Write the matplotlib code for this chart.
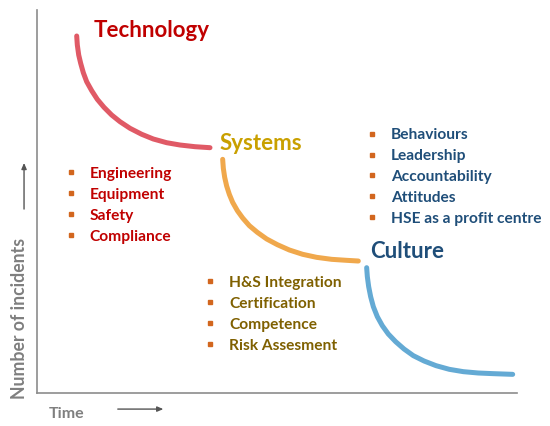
import matplotlib
matplotlib.use("Agg")
import matplotlib.pyplot as plt

# curve points (time 0-100, incidents 0-100)
tech_t = [8.27, 8.40, 8.69, 9.10, 9.65, 10.35, 11.40, 12.56, 13.96, 15.56,
          17.29, 19.38, 21.81, 24.23, 27.02, 29.79, 32.92, 36.04]
tech_n = [93.21, 90.86, 88.25, 86.08, 83.63, 81.28, 78.93, 76.68, 74.59,
          72.58, 70.84, 69.11, 67.55, 66.32, 65.35, 64.75, 64.31, 64.05]
sys_t = [38.68, 38.82, 39.10, 39.51, 40.07, 40.76, 41.74, 42.85, 44.24,
         45.90, 47.85, 50.07, 52.57, 55.35, 58.26, 61.39, 64.51, 66.94]
sys_n = [61.01, 58.66, 56.31, 54.05, 51.87, 49.78, 47.61, 45.69, 43.69,
         41.95, 40.21, 38.73, 37.34, 36.21, 35.42, 34.90, 34.64, 34.46]
cul_t = [68.68, 68.82, 69.10, 69.51, 70.07, 70.90, 71.94, 73.19, 74.72,
         76.46, 78.40, 80.63, 83.13, 85.90, 88.82, 91.94, 95.07, 99.10]
cul_n = [32.72, 30.37, 27.76, 25.15, 22.54, 19.93, 17.58, 15.40, 13.40,
         11.49, 9.75, 8.36, 7.14, 6.18, 5.57, 5.22, 5.05, 4.87]

tech_items = ["Engineering", "Equipment", "Safety", "Compliance"]
sys_items = ["H&S Integration", "Certification", "Competence", "Risk Assesment"]
cul_items = ["Behaviours", "Leadership", "Accountability", "Attitudes",
             "HSE as a profit centre"]

FONT = "Lato"
RED = "#c00000"
GOLD = "#c9a000"
OLIVE = "#7f6000"
NAVY = "#1f4e79"
BULLET = "#d2661e"
GREY = "#7f7f7f"

fig = plt.figure(figsize=(5.5, 4.26), dpi=100)
ax = fig.add_axes([37 / 550, 33 / 426, 480 / 550, 383 / 426])
ax.set_xlim(0, 100)
ax.set_ylim(0, 100)
ax.set_xticks([])
ax.set_yticks([])
for s in ["top", "right"]:
    ax.spines[s].set_visible(False)
for s in ["left", "bottom"]:
    ax.spines[s].set_color("#8c8c8c")
    ax.spines[s].set_linewidth(1.2)

style = dict(lw=3.6, solid_capstyle="round", solid_joinstyle="round")
ax.plot(tech_t, tech_n, color="#e05a66", **style)
ax.plot(sys_t, sys_n, color="#f0a84c", **style)
ax.plot(cul_t, cul_n, color="#64aad4", **style)

ax.text(11.7, 92.9, "Technology", color=RED, fontsize=16,
        fontweight="bold", family=FONT, va="baseline")
ax.text(38.1, 63.4, "Systems", color=GOLD, fontsize=16,
        fontweight="bold", family=FONT, va="baseline")
ax.text(69.4, 35.2, "Culture", color=NAVY, fontsize=16,
        fontweight="bold", family=FONT, va="baseline")


def bullet_list(items, x, y0, color):
    step = 5.45
    for i, item in enumerate(items):
        y = y0 - i * step
        ax.text(x, y, item, color=color, fontsize=11.2, fontweight="bold",
                family=FONT, va="baseline")
        ax.plot([x - 4.0], [y + 1.5], marker="s", ms=3.4, color=BULLET,
                clip_on=False)


bullet_list(tech_items, 11.0, 56.1, RED)
bullet_list(sys_items, 40.1, 27.7, OLIVE)
bullet_list(cul_items, 73.75, 66.2, NAVY)

ax.text(2.5, -6.5, "Time", color=GREY, fontsize=11.5, fontweight="bold",
        family=FONT, va="baseline")
ax.text(-1.9, 19.4, "Number of incidents", color=GREY, fontsize=12.7,
        fontweight="bold", family=FONT, rotation=90, ha="right", va="center")

arrow = dict(arrowstyle="-|>,head_length=0.35,head_width=0.15",
             color="#555555", lw=1.0)
ax.annotate("", xy=(26.9, -4.2), xytext=(16.25, -4.2), arrowprops=arrow,
            annotation_clip=False)
ax.annotate("", xy=(-2.7, 60.8), xytext=(-2.7, 47.3), arrowprops=arrow,
            annotation_clip=False)

fig.savefig("out.png", dpi=100)
